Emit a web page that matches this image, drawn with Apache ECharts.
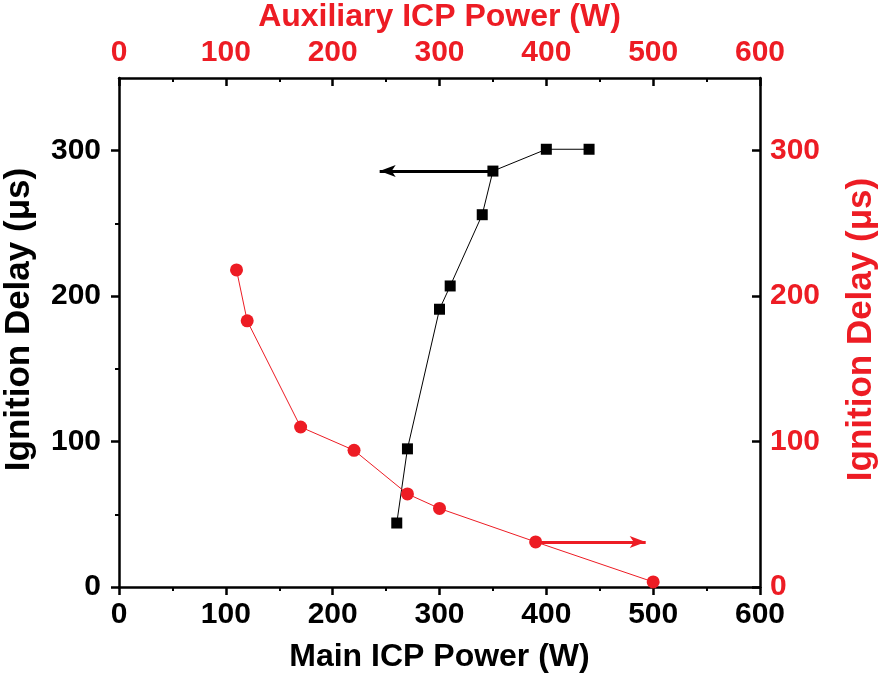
<!DOCTYPE html>
<html lang="en">
<head>
    <meta charset="UTF-8">
    <title>Ignition Delay vs ICP Power</title>
    <script src="https://cdn.jsdelivr.net/npm/echarts@6.0.0/dist/echarts.min.js"></script>
    <style>
        html, body { margin: 0; padding: 0; background: #fff; }
        #chart-container { width: 879px; height: 675px; }
    </style>
</head>
<body>
<div id="chart-container"></div>

<script>
    // data
    var mainPower = [260, 270, 300, 310, 340, 350, 400, 440];
    var mainDelay = [44, 95, 191, 207, 256, 286, 301, 301];
    var auxPower = [110, 120, 170, 220, 270, 300, 390, 500];
    var auxDelay = [218, 183, 110, 94, 64, 54, 31, 3.5];
    // arrows pointing at the axis each series belongs to
    var mainArrow = [[350, 286], [244, 286]];
    var auxArrow = [[390, 31], [493, 31]];
    var yMajorTicks = [0, 100, 200, 300];
    var yMinorTicks = [50, 150, 250];

    var red = "#ed1c24";
    var font = "Liberation Sans";

    function pairs(xs, ys) {
        return xs.map(function (x, i) { return [x, ys[i]]; });
    }

    function xAxisCfg(pos, name, color) {
        return {
            type: "value",
            position: pos,
            min: 0,
            max: 600,
            interval: 100,
            name: name,
            nameLocation: "middle",
            nameGap: pos === "bottom" ? 54 : 44,
            nameTextStyle: { color: color, fontFamily: font, fontWeight: "bold", fontSize: 32 },
            axisLine: { show: true, onZero: false, lineStyle: { color: "#000", width: 2.5 } },
            axisTick: { show: true, inside: pos === "top", length: 8, lineStyle: { color: "#000", width: 2.5 } },
            minorTick: { show: true, splitNumber: 2, length: 4, lineStyle: { color: "#000", width: 2 } },
            axisLabel: { color: color, fontFamily: font, fontWeight: "bold", fontSize: 30, margin: pos === "bottom" ? 13 : 10 },
            splitLine: { show: false }
        };
    }

    function yAxisCfg(pos, name, color) {
        return {
            type: "value",
            position: pos,
            min: 0,
            max: 350,
            interval: 100,
            name: name,
            nameLocation: "middle",
            nameGap: pos === "left" ? 82 : 84,
            nameRotate: 90,
            nameTextStyle: { color: color, fontFamily: font, fontWeight: "bold", fontSize: 35,
                             padding: pos === "left" ? [0, 0, 0, 26] : [0, 0, 0, 6] },
            axisLine: { show: true, onZero: false, lineStyle: { color: "#000", width: 2.5 } },
            axisTick: { show: true, inside: pos === "right", length: 8, customValues: yMajorTicks,
                        lineStyle: { color: "#000", width: 2.5 } },
            axisLabel: { color: color, fontFamily: font, fontWeight: "bold", fontSize: 30,
                         margin: pos === "left" ? 18 : 10, customValues: yMajorTicks },
            splitLine: { show: false }
        };
    }

    function yMinorCfg(pos) {
        return {
            type: "value",
            position: pos,
            min: 0,
            max: 350,
            axisLine: { show: false },
            axisTick: { show: true, inside: pos === "right", length: 4, customValues: yMinorTicks,
                        lineStyle: { color: "#000", width: 2 } },
            axisLabel: { show: false },
            splitLine: { show: false }
        };
    }

    var option = {
        animation: false,
        backgroundColor: "#fff",
        grid: { left: 119, right: 119, top: 78, bottom: 88, containLabel: false, outerBoundsMode: "none" },
        xAxis: [
            xAxisCfg("bottom", "Main ICP Power (W)", "#000"),
            xAxisCfg("top", "Auxiliary ICP Power (W)", red)
        ],
        yAxis: [
            yAxisCfg("left", "Ignition Delay (\u03bcs)", "#000"),
            yAxisCfg("right", "Ignition Delay (\u03bcs)", red),
            yMinorCfg("left"),
            yMinorCfg("right")
        ],
        series: [
            {
                name: "Main ICP",
                type: "line",
                xAxisIndex: 0,
                yAxisIndex: 0,
                data: pairs(mainPower, mainDelay),
                symbol: "rect",
                symbolSize: 11,
                itemStyle: { color: "#000" },
                lineStyle: { color: "#000", width: 1 },
                markLine: {
                    silent: true,
                    symbol: ["none", "arrow"],
                    symbolSize: [9, 16],
                    label: { show: false },
                    lineStyle: { color: "#000", width: 3, type: "solid" },
                    data: [[{ coord: mainArrow[0] }, { coord: mainArrow[1] }]]
                }
            },
            {
                name: "Auxiliary ICP",
                type: "line",
                xAxisIndex: 1,
                yAxisIndex: 1,
                data: pairs(auxPower, auxDelay),
                symbol: "circle",
                symbolSize: 13,
                itemStyle: { color: red },
                lineStyle: { color: red, width: 1 },
                markLine: {
                    silent: true,
                    symbol: ["none", "arrow"],
                    symbolSize: [9, 16],
                    label: { show: false },
                    lineStyle: { color: red, width: 3, type: "solid" },
                    data: [[{ coord: auxArrow[0] }, { coord: auxArrow[1] }]]
                }
            }
        ]
    };

    var chart = echarts.init(document.getElementById("chart-container"));
    chart.setOption(option);
</script>
</body>
</html>
